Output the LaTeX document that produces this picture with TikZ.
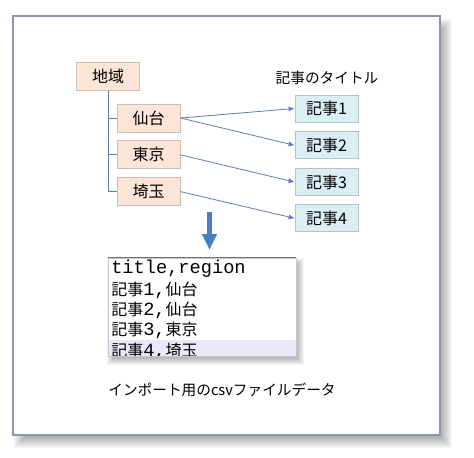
\documentclass[tikz,border=0pt]{standalone}
\usepackage{fontspec}
\newfontfamily\jpfont{Noto Sans CJK JP}
\newfontfamily\monofont{Liberation Mono}
\usetikzlibrary{arrows.meta,positioning}
\definecolor{peach}{HTML}{FCE4D6}
\definecolor{peachline}{HTML}{CDBDB2}
\definecolor{skyfill}{HTML}{DAEEF3}
\definecolor{skyline}{HTML}{B3C3CB}
\definecolor{linkblue}{HTML}{5A7DB5}
\definecolor{bigblue}{HTML}{4A7EC2}
\definecolor{framegray}{HTML}{8A97AA}
\definecolor{rowhl}{HTML}{E8E8F8}
\newcommand{\csvline}[2]{\jpfont\fontsize{12}{14}\selectfont 記事\monofont\fontsize{14}{16}\selectfont #1,\jpfont\fontsize{12}{14}\selectfont #2}

\begin{document}
\begin{tikzpicture}[x=0.75pt,y=-0.75pt,font=\jpfont\fontsize{12}{14}\selectfont,
  >={Latex[length=4.5pt,width=3.8pt]},
  region/.style={draw=peachline,fill=peach,line width=0.6pt,minimum width=47.25pt,minimum height=21pt,inner sep=0pt},
  article/.style={draw=skyline,fill=skyfill,line width=0.6pt,minimum width=47.25pt,minimum height=20.25pt,inner sep=0pt},
  tree/.style={draw=linkblue,line width=0.7pt},
  link/.style={draw=linkblue,line width=0.6pt,->,color=linkblue},
  bigarrow/.style={draw=bigblue,line width=3.75pt,-{Triangle[length=12pt,width=10.5pt]}},
  csvtext/.style={anchor=west,inner sep=0pt},
  lab/.style={font=\jpfont\fontsize{11}{13}\selectfont}]
\useasboundingbox (0,0) rectangle (474,457);
% soft shadows
\foreach \r in {-6,...,6}
  \fill[black,opacity=0.032] (20-\r,25-\r) rectangle (446+\r,442+\r);
\fill[white,draw=framegray,line width=0.9pt] (13,16) rectangle (440,435);
\foreach \r in {-4,...,4}
  \fill[black,opacity=0.04] (111-\r,262-\r) rectangle (300+\r,361+\r);

% region tree
\node[region] (area) at (108,76.5) {地域};
\node[region] (sendai) at (148.5,118) {仙台};
\node[region,below=6pt of sendai] (tokyo) {東京};
\node[region,below=6pt of tokyo] (saitama) {埼玉};
\draw[tree] (area.south) |- (saitama.west);
\draw[tree] (area.south |- sendai.west) -- (sendai.west);
\draw[tree] (area.south |- tokyo.west) -- (tokyo.west);

% article titles
\node[lab] (ttl) at (327,78) {記事のタイトル};
\node[article] (art1) at (326.5,108.5) {記事1};
\node[article,below=6.75pt of art1] (art2) {記事2};
\node[article,below=6.75pt of art2] (art3) {記事3};
\node[article,below=6.3pt of art3] (art4) {記事4};
\draw[link] (sendai.east) -- (art1.west);
\draw[link] (sendai.east) -- (art2.west);
\draw[link] (tokyo.east) -- (art3.west);
\draw[link] (saitama.east) -- (art4.west);

\coordinate (arrtop) at (209.5,212);
\coordinate (arrtip) at (209.5,250);
\draw[bigarrow] (arrtop) -- (arrtip);

% csv file
\node[fill=white,draw=black!22,line width=0.6pt,minimum width=141pt,minimum height=73.5pt,inner sep=0pt] (csv) at (202,307) {};
\fill[rowhl] (108.5,340) rectangle (295.5,355.5);
\draw[black!55,line width=1pt] (csv.north west) -- (csv.north east);
\begin{scope}
\clip (108,258) rectangle (296,355.5);
\node[csvtext] (row0) at (111,269) {\monofont\fontsize{14}{16}\selectfont title,region};
\node[csvtext] (row1) at (111,290.5) {\csvline{1}{仙台}};
\node[csvtext] (row2) at (111,310.5) {\csvline{2}{仙台}};
\node[csvtext] (row3) at (111,330) {\csvline{3}{東京}};
\node[csvtext] (row4) at (111,351.5) {\csvline{4}{埼玉}};
\end{scope}
\node[lab] (cap) at (222,390) {インポート用のcsvファイルデータ};
\end{tikzpicture}
\end{document}
